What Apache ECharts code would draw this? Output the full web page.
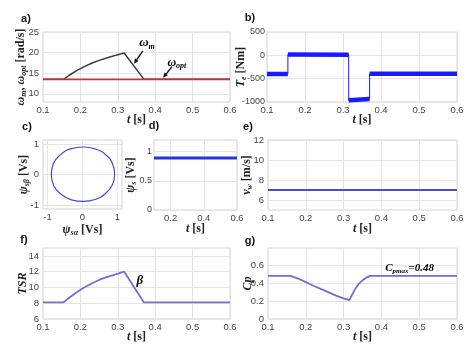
<!DOCTYPE html>
<html><head><meta charset="utf-8">
<script src="https://cdn.jsdelivr.net/npm/echarts@6/dist/echarts.min.js"></script>
<style>html,body{margin:0;padding:0;background:#fff}#c{width:474px;height:348px}</style>
</head><body><div id="c"></div>
<script>
// ---------- data ----------
const tTicks = [0.1, 0.2, 0.3, 0.4, 0.5, 0.6];
const tTicksD = [0.2, 0.4, 0.6];
const psiTicks = [-1, 0, 1];
const yTicksA = [10, 15, 20, 25];
const yTicksB = [-1000, -500, 0, 500];
const yTicksD = [0, 0.5, 1];
const yTicksE = [6, 8, 10, 12];
const yTicksF = [6, 8, 10, 12, 14];
const yTicksG = [0, 0.2, 0.4, 0.6];

// a) rotor speed and optimal speed
const tA = [0.1, 0.155, 0.17, 0.19, 0.21, 0.23, 0.25, 0.27, 0.29, 0.31, 0.317, 0.37, 0.6];
const omegaM = [13.5, 13.5, 14.5, 15.6, 16.6, 17.4, 18.1, 18.7, 19.25, 19.7, 19.9, 13.5, 13.5];
const tOpt = [0.1, 0.6];
const omegaOpt = [13.5, 13.5];

// b) electromagnetic torque (steps)
const tB = [0.1, 0.155, 0.155, 0.315, 0.315, 0.37, 0.37, 0.6];
const Te = [-400, -400, 20, 10, -965, -935, -395, -395];

// c) stator flux trajectory
const psiAlpha = [0.92, 0.86, 0.66, 0.36, 0.03, -0.32, -0.62, -0.83, -0.89, -0.83, -0.62, -0.32, 0.02, 0.36, 0.66, 0.86];
const psiBeta  = [0.0, 0.35, 0.65, 0.84, 0.90, 0.85, 0.66, 0.36, 0.0, -0.35, -0.64, -0.83, -0.88, -0.82, -0.62, -0.33];

// d) stator flux magnitude
const tD = [0.1, 0.6];
const psiS = [0.89, 0.89];

// e) wind speed
const tE = [0.1, 0.6];
const vW = [7, 7];

// f) tip speed ratio
const tF = [0.1, 0.155, 0.17, 0.19, 0.21, 0.23, 0.25, 0.27, 0.29, 0.31, 0.317, 0.37, 0.6];
const TSR = [8.1, 8.1, 8.7, 9.4, 10.0, 10.5, 10.95, 11.3, 11.6, 11.9, 12.0, 8.1, 8.1];

// g) power coefficient
const tG = [0.1, 0.16, 0.18, 0.2, 0.22, 0.25, 0.28, 0.3, 0.315, 0.32, 0.33, 0.34, 0.35, 0.36, 0.37, 0.6];
const Cp = [0.48, 0.48, 0.45, 0.41, 0.37, 0.315, 0.26, 0.23, 0.21, 0.25, 0.33, 0.39, 0.43, 0.46, 0.48, 0.48];

// ---------- chart ----------
const SANS = 'Liberation Sans, Arial, sans-serif';
const SERIF = 'Liberation Serif, Times New Roman, serif';
function mkRich(fs) {
  return {
    b: {fontFamily: SERIF, fontWeight: 'bold', fontSize: fs, color: '#222'},
    i: {fontFamily: SERIF, fontWeight: 'bold', fontStyle: 'italic', fontSize: fs, color: '#222'},
    s: {fontFamily: SERIF, fontWeight: 'bold', fontStyle: 'italic', fontSize: Math.round(fs * 0.65), color: '#222', padding: [Math.round(fs * 0.55), 0, 0, 0]}
  };
}
const rich = mkRich(12);
const richBig = mkRich(13);
const zip = (xs, ys) => xs.map((x, k) => [x, ys[k]]);

const gridPos = [
  {left: 43, top: 32, width: 187, height: 70},
  {left: 267, top: 32, width: 190, height: 70},
  {left: 43, top: 140, width: 79, height: 69},
  {left: 154, top: 140, width: 83, height: 70},
  {left: 268, top: 140, width: 189, height: 70},
  {left: 43, top: 248, width: 187, height: 71},
  {left: 268, top: 248, width: 189, height: 71}
];
const grids = gridPos.map(g => Object.assign({show: true, borderColor: '#d2d2d2', borderWidth: 1, backgroundColor: '#fff'}, g));

function axis(gridIndex, min, max, ticks, name, nameGap, isY, labelSize, labelMargin) {
  return {
    type: 'value', gridIndex, min, max,
    axisLine: {show: false},
    axisTick: {show: false, customValues: ticks},
    axisLabel: {customValues: ticks, fontSize: labelSize || 9.5, color: '#444', fontFamily: SANS,
      margin: labelMargin != null ? labelMargin : (isY ? 4 : 3), formatter: v => String(v)},
    splitLine: {show: true, lineStyle: {color: '#e4e4e4', width: 1}},
    name, nameLocation: 'middle', nameGap, nameRotate: isY ? 90 : 0,
    nameMoveOverlap: false,
    nameTextStyle: {rich}
  };
}
const tName = '{i|t}{b| [s]}';

const xAxes = [
  axis(0, 0.1, 0.6, tTicks, tName, 12, false),
  axis(1, 0.1, 0.6, tTicks, tName, 12, false),
  axis(2, -1.13, 1.13, psiTicks, '{i|ψ}{s|sα}{b| [Vs]}', 13, false),
  axis(3, 0.1, 0.6, tTicksD, tName, 13, false),
  axis(4, 0.1, 0.6, tTicks, tName, 13, false),
  axis(5, 0.1, 0.6, tTicks, tName, 12, false),
  axis(6, 0.1, 0.6, tTicks, tName, 12, false)
];
const yAxes = [
  axis(0, 8, 25, yTicksA, '{i|ω}{s|m}{b|, }{i|ω}{s|opt}{b| [rad/s]}', 15, true),
  axis(1, -1000, 500, yTicksB, '{i|T}{s|e}{b| [Nm]}', 19, true, 9, 2),
  axis(2, -1.13, 1.13, psiTicks, '{i|ψ}{s|sβ}{b| [Vs]}', 12, true),
  axis(3, 0, 1.2, yTicksD, '{i|ψ}{s|s}{b| [Vs]}', 16, true, 9, 2),
  axis(4, 5, 12, yTicksE, '{i|v}{s|w}{b| [m/s]}', 14, true),
  axis(5, 6, 15, yTicksF, '{i|TSR}', 14, true),
  axis(6, 0, 0.79, yTicksG, '{i|Cp}', 14, true)
];

function line(idx, data, color, width, extra) {
  return Object.assign({
    type: 'line', xAxisIndex: idx, yAxisIndex: idx, data, showSymbol: false,
    lineStyle: {color, width}, itemStyle: {color}, animation: false, silent: true
  }, extra || {});
}

// torque: thin connecting line + thick plateaus
const teSegments = [];
{
  let cur = [];
  tB.forEach((t, k) => {
    if (k > 0 && t === tB[k - 1]) { teSegments.push(cur); cur = []; }
    cur.push([t, Te[k]]);
  });
  teSegments.push(cur);
}

const psiLoop = zip(psiAlpha, psiBeta);
psiLoop.push(psiLoop[0]);

const series = [
  line(0, zip(tA, omegaM), '#3c3c3c', 1.5),
  line(0, zip(tOpt, omegaOpt), '#d22a3c', 1.6),
  line(1, zip(tB, Te), '#1a1aff', 1),
  ...teSegments.map(seg => line(1, seg, '#1a1aff', 4.5)),
  line(2, psiLoop, '#4a4ac8', 1.2, {smooth: 0.5}),
  line(3, zip(tD, psiS), '#2036e0', 3),
  line(4, zip(tE, vW), '#4c4cc4', 1.8),
  line(5, zip(tF, TSR), '#7070d6', 1.8),
  line(6, zip(tG, Cp), '#6e6ed6', 1.8)
];

const chart = echarts.init(document.getElementById('c'));
chart.setOption({
  animation: false,
  backgroundColor: '#fff',
  grid: grids, xAxis: xAxes, yAxis: yAxes, series
});

// ---------- annotations (positioned from data coordinates) ----------
const px = (g, p) => chart.convertToPixel({gridIndex: g}, p);
function arrow(g, from, to) {
  const a = px(g, from), b = px(g, to);
  const ang = Math.atan2(b[1] - a[1], b[0] - a[0]);
  const L = 5, W = 2.2;
  const bx = b[0] - L * Math.cos(ang), by = b[1] - L * Math.sin(ang);
  return [
    {type: 'line', shape: {x1: a[0], y1: a[1], x2: bx, y2: by}, style: {stroke: '#111', lineWidth: 1.4}, silent: true},
    {type: 'polygon', shape: {points: [b, [bx - W * Math.sin(ang), by + W * Math.cos(ang)], [bx + W * Math.sin(ang), by - W * Math.cos(ang)]]}, style: {fill: '#111'}, silent: true}
  ];
}
function txt(x, y, text, opts) {
  return {type: 'text', x, y, silent: true, style: Object.assign({text, align: 'center', verticalAlign: 'middle', rich: richBig}, opts || {})};
}
const panelFont = 'bold 11px ' + SANS;
const lbl = (x, y, t) => txt(x, y, t, {font: panelFont, fill: '#111'});
const g = [];
[['a)', 26, 19], ['b)', 250, 18], ['c)', 27, 127], ['d)', 154, 126], ['e)', 248, 127], ['f)', 24, 240], ['g)', 250, 241]]
  .forEach(([t, x, y]) => g.push(lbl(x, y, t)));

const wm = px(0, [0.378, 22.3]);
g.push(txt(wm[0], wm[1], '{i|ω}{s|m}'));
g.push(...arrow(0, [0.367, 20.4], [0.343, 17.3]));
const wo = px(0, [0.458, 17.6]);
g.push(txt(wo[0], wo[1], '{i|ω}{s|opt}', {rich: rich}));
g.push(...arrow(0, [0.445, 16.6], [0.421, 13.9]));
const be = px(5, [0.359, 10.9]);
g.push(txt(be[0], be[1], '{i|β}'));
const cp = px(6, [0.41, 0.49]);
g.push(txt(cp[0], cp[1], '{i|C}{s|pmax}{i|=0.48}', {align: 'left', verticalAlign: 'bottom', rich: mkRich(11)}));

chart.setOption({graphic: g});
</script>
</body></html>
